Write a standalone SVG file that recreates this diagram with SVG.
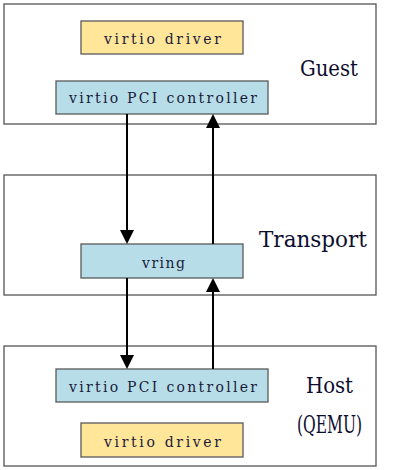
<svg xmlns="http://www.w3.org/2000/svg" width="415" height="470" viewBox="0 0 415 470">
<defs>
<style>
.layer{fill:#ffffff;stroke:#555555;stroke-width:1.3}
.drv{fill:#ffe699;stroke:#595959;stroke-width:1.3}
.blue{fill:#b7dee8;stroke:#595959;stroke-width:1.3}
.t{font-family:"DejaVu Serif","Liberation Serif",serif;font-size:14px;fill:#1a1a3a;text-anchor:middle}
.big{font-family:"DejaVu Serif","Liberation Serif",serif;font-size:22px;fill:#0d0d30}
.conn{stroke:#000000;stroke-width:2;fill:none}
.head{fill:#000000}
</style>
</defs>
<rect width="415" height="470" fill="#ffffff"/>
<g id="guest">
<rect class="layer" x="4" y="4" width="372" height="120"/>
<text class="big" x="300" y="76" textLength="58" lengthAdjust="spacingAndGlyphs">Guest</text>
</g>
<g id="transport">
<rect class="layer" x="4" y="175" width="372" height="120"/>
<text class="big" x="259" y="247" textLength="108" lengthAdjust="spacingAndGlyphs">Transport</text>
</g>
<g id="host">
<rect class="layer" x="4" y="346" width="372" height="120"/>
<text class="big" x="306" y="393" textLength="47" lengthAdjust="spacingAndGlyphs">Host</text>
<text class="big" style="font-size:25px" x="297" y="433" textLength="65" lengthAdjust="spacingAndGlyphs">(QEMU)</text>
</g>
<g id="guest-driver">
<rect class="drv" x="81" y="21" width="162" height="33"/>
<text class="t" x="162.5" y="44" textLength="117" lengthAdjust="spacing">virtio driver</text>
</g>
<g id="guest-pci">
<rect class="blue" x="56" y="81" width="212" height="33"/>
<text class="t" x="163" y="103" textLength="188" lengthAdjust="spacing">virtio PCI controller</text>
</g>
<g id="vring">
<rect class="blue" x="81" y="244" width="162" height="34"/>
<text class="t" x="163.5" y="268" textLength="43" lengthAdjust="spacing">vring</text>
</g>
<g id="host-pci">
<rect class="blue" x="56" y="369" width="212" height="33"/>
<text class="t" x="163" y="392" textLength="188" lengthAdjust="spacing">virtio PCI controller</text>
</g>
<g id="host-driver">
<rect class="drv" x="81" y="423" width="162" height="34"/>
<text class="t" x="162.5" y="447" textLength="117" lengthAdjust="spacing">virtio driver</text>
</g>
<g id="connectors">
<line class="conn" x1="127" y1="114" x2="127" y2="232"/>
<polygon class="head" points="120,230 134,230 127,244"/>
<line class="conn" x1="213" y1="244" x2="213" y2="126"/>
<polygon class="head" points="206,128 220,128 213,114"/>
<line class="conn" x1="127" y1="278" x2="127" y2="357"/>
<polygon class="head" points="120,355 134,355 127,369"/>
<line class="conn" x1="213" y1="369" x2="213" y2="290"/>
<polygon class="head" points="206,292 220,292 213,278"/>
</g>
</svg>
